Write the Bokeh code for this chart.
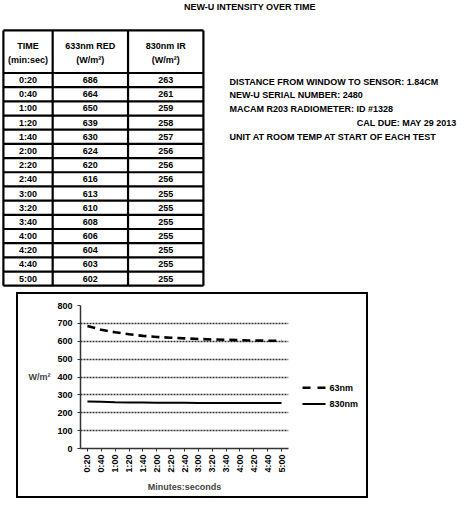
import numpy as np
from bokeh.plotting import figure
from bokeh.layouts import column, row
from bokeh.models import Range1d, FixedTicker, Spacer
from bokeh.core.properties import value
from bokeh.embed import file_html
from bokeh.resources import INLINE

# data
times = ["0:20", "0:40", "1:00", "1:20", "1:40", "2:00", "2:20", "2:40",
         "3:00", "3:20", "3:40", "4:00", "4:20", "4:40", "5:00"]
red_633 = [686, 664, 650, 639, 630, 624, 620, 616, 613, 610, 608, 606, 604, 603, 602]
ir_830 = [263, 261, 259, 258, 257, 256, 256, 256, 255, 255, 255, 255, 255, 255, 255]
headers_1 = ["TIME", "633nm RED", "830nm IR"]
headers_2 = ["(min:sec)", "(W/m\u00b2)", "(W/m\u00b2)"]
title_text = "NEW-U INTENSITY OVER TIME"
notes = ["DISTANCE FROM WINDOW TO SENSOR: 1.84CM",
         "NEW-U SERIAL NUMBER: 2480",
         "MACAM R203 RADIOMETER: ID #1328"]
cal_due = "CAL DUE: MAY 29 2013"
last_note = "UNIT AT ROOM TEMP AT START OF EACH TEST"
y_ticks = [0, 100, 200, 300, 400, 500, 600, 700, 800]
legend_labels = ["63nm", "830nm"]
y_label = "W/m\u00b2"
x_label = "Minutes:seconds"

FONT_NAME = "Liberation Sans"
FONT = value(FONT_NAME)
FS = "9px"
DASH = "8 5"

# ---------- top part: title, table and notes ----------
top = figure(width=458, height=290, x_range=Range1d(0, 474), y_range=Range1d(300, 0),
             x_axis_type=None, y_axis_type=None, output_backend="svg",
             toolbar_location=None, min_border=0)
top.grid.visible = False
top.outline_line_color = None


def txt(fig, x, y, t, align="center"):
    fig.text(x=x, y=y, text=t, text_align=align, text_baseline="middle",
             text_font=FONT, text_font_style="bold", text_font_size=FS, color="black")


txt(top, [258], [7], [title_text])

col_edges = [3, 54, 132, 210]
col_mid = [(col_edges[i] + col_edges[i + 1]) / 2 for i in range(3)]
head_top, head_bot, row_h = 31, 75, 14.67
n = len(times)
row_edges = [head_top, head_bot] + [head_bot + row_h * (i + 1) for i in range(n)]
bottom = row_edges[-1]

top.segment(x0=[col_edges[0]] * len(row_edges), y0=row_edges,
            x1=[col_edges[-1]] * len(row_edges), y1=row_edges,
            line_color="black", line_width=2.2)
top.segment(x0=col_edges, y0=[head_top] * 4, x1=col_edges, y1=[bottom] * 4,
            line_color="black", line_width=2.2)

txt(top, col_mid, [47] * 3, headers_1)
txt(top, col_mid, [62] * 3, headers_2)
row_mid = [head_bot + row_h * (i + 0.5) for i in range(n)]
txt(top, [col_mid[0]] * n, row_mid, times)
txt(top, [col_mid[1]] * n, row_mid, [str(v) for v in red_633])
txt(top, [col_mid[2]] * n, row_mid, [str(v) for v in ir_830])

txt(top, [237] * 3, [84, 98, 112], notes, align="left")
txt(top, [472], [127], [cal_due], align="right")
txt(top, [237], [141], [last_note], align="left")

# ---------- bottom part: the line chart ----------
ch = figure(width=274, height=202, x_range=times, y_range=Range1d(0, 800),
            output_backend="svg", toolbar_location=None,
            min_border_left=62, min_border_right=4, min_border_top=11,
            min_border_bottom=48)
ch.outline_line_color = None

ch.line(times, red_633, line_color="black", line_width=2.6, line_dash=DASH)
ch.line(times, ir_830, line_color="black", line_width=2)

ch.xgrid.visible = False
ch.ygrid.grid_line_color = "#333333"
ch.ygrid.grid_line_width = 1.5
ch.ygrid.grid_line_dash = "2 1"

ch.yaxis.ticker = FixedTicker(ticks=y_ticks)
for ax in (ch.xaxis[0], ch.yaxis[0]):
    ax.axis_line_color = "#333333"
    ax.axis_line_width = 1.5
    ax.major_tick_line_color = "#333333"
    ax.major_tick_in = 0
    ax.major_tick_out = 3
    ax.minor_tick_line_color = None
    ax.major_label_text_font = FONT_NAME
    ax.major_label_text_font_style = "bold"
    ax.major_label_text_font_size = FS
    ax.major_label_text_color = "black"
    ax.axis_label_text_font = FONT_NAME
    ax.axis_label_text_font_style = "bold"
    ax.axis_label_text_font_size = FS
ch.yaxis.major_label_standoff = 5
ch.xaxis.major_label_orientation = np.pi / 2
ch.xaxis.major_label_standoff = 3
ch.xaxis.axis_label = x_label
ch.xaxis.axis_label_standoff = 6

ch.yaxis.axis_label = y_label
ch.yaxis.axis_label_standoff = 4
if "axis_label_orientation" in ch.yaxis[0].properties():
    ch.yaxis.axis_label_orientation = "horizontal"

# legend drawn in a small panel to the right of the chart, sharing its y scale
lg = figure(width=74, height=202, x_range=Range1d(0, 74), y_range=ch.y_range,
            x_axis_type=None, y_axis_type=None, output_backend="svg",
            toolbar_location=None, min_border_left=0, min_border_right=0,
            min_border_top=11, min_border_bottom=48)
lg.grid.visible = False
lg.outline_line_color = None
key_y = [340, 249]
lg.segment(x0=[10], y0=[key_y[0]], x1=[33], y1=[key_y[0]],
           line_color="black", line_width=2.6, line_dash="8 7")
lg.segment(x0=[10], y0=[key_y[1]], x1=[33], y1=[key_y[1]],
           line_color="black", line_width=2)
txt(lg, [37, 37], key_y, legend_labels, align="left")

box = row(ch, lg, styles={"border": "2px solid black"})
p = column(top, Spacer(height=2), row(Spacer(width=16), box))

open("out.html", "w").write(file_html(p, INLINE))
